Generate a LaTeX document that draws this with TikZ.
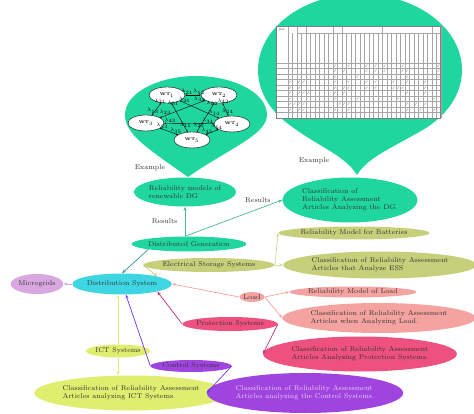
\documentclass[tikz,border=0pt]{standalone}
\usepackage{fontspec}
\usepackage{tikz}
\usetikzlibrary{positioning, shapes.geometric, arrows.meta}
\newfontfamily\symfont{DejaVu Sans}
\definecolor{dgGreen}{HTML}{1FD69E}
\definecolor{dsCyan}{HTML}{3DD6E2}
\definecolor{essOlive}{HTML}{C6D07A}
\definecolor{mgLilac}{HTML}{D9A8E2}
\definecolor{loadPink}{HTML}{F4A3A0}
\definecolor{protRed}{HTML}{EE5080}
\definecolor{ictYellow}{HTML}{E0EE70}
\definecolor{ctrlPurple}{HTML}{A044E0}
\definecolor{txtDark}{HTML}{333333}

\begin{document}
\begin{tikzpicture}[x=1pt, y=-1pt, font=\fontsize{7}{8}\selectfont,
  bub/.style={ellipse, inner sep=0pt, align=left, text=txtDark},
  wt/.style={ellipse, draw=black, fill=white, inner sep=0pt,
    minimum width=36, minimum height=16, font=\fontsize{4}{5}\selectfont\bfseries},
  lbl/.style={font=\fontsize{3.5}{4}\selectfont, inner sep=0.5pt},
  wtarr/.style={{Stealth[length=2pt]}-{Stealth[length=2pt]}, line width=0.4pt},
  arr/.style={-{Stealth[length=4pt]}, line width=0.7pt}]

\useasboundingbox (0,0) rectangle (474,414);

% example balloons
\fill[dgGreen] (188,177) .. controls (150,150) and (125,135) .. (125,115)
  .. controls (125,92) and (160,76) .. (196,76)
  .. controls (232,76) and (267,92) .. (267,115)
  .. controls (267,135) and (226,150) .. (188,177) -- cycle;
\fill[dgGreen] (360,70) ellipse [x radius=102, y radius=76];
\fill[dgGreen] (290,125) .. controls (315,145) and (345,155) .. (357,175)
  .. controls (369,155) and (400,145) .. (430,125) -- cycle;

% WT graph
\node[wt] (wt1) at (167,95)  {WT$_1$};
\node[wt] (wt2) at (219,95)  {WT$_2$};
\node[wt] (wt3) at (146,123) {WT$_3$};
\node[wt] (wt4) at (232,124) {WT$_4$};
\node[wt] (wt5) at (192,140) {WT$_5$};
\foreach \a/\b in {1/2,1/3,2/4,3/5,4/5,1/4,1/5,2/3,2/5,3/4}
  \draw[wtarr] (wt\a) -- node[lbl, pos=0.12, above]{$\lambda_{\b\a}$}
    node[lbl, pos=0.88, above]{$\lambda_{\a\b}$} (wt\b);

% table
\fill[white] (276,26) rectangle (440,118);
\foreach \c in {0,...,34}
  \draw[gray!70, line width=0.2pt] (288+4.5*\c,33) -- (288+4.5*\c,118);
\foreach \c in {0,2,4,10,12,21,32,34}
  \draw[gray!70, line width=0.2pt] (288+4.5*\c,26) -- (288+4.5*\c,33);
\foreach \r in {0,...,9}
  \draw[gray!70, line width=0.2pt] (276,63+5.5*\r) -- (440,63+5.5*\r);
\draw[gray!70, line width=0.2pt] (297,33) -- (440,33);
\draw[gray, line width=0.3pt] (276,26) rectangle (440,118);
\node[font=\fontsize{2.5}{3}\selectfont, inner sep=0pt] (ref) at (282,29.5) {Ref};
\foreach \c/\r in {10/1,13/1,17/1,19/1,21/1,25/1,33/1,
  10/2,12/2,17/2,19/2,21/2,25/2,26/2,33/2,
  10/3,15/3,26/3,33/3,
  0/4,2/4,3/4,10/4,13/4,17/4,19/4,23/4,26/4,30/4,
  0/5,2/5,10/5,12/5,13/5,17/5,19/5,23/5,24/5,25/5,30/5,
  0/6,2/6,3/6,4/6,10/6,12/6,26/6,30/6,
  0/7,10/7,15/7,24/7,32/7,
  0/8,1/8,2/8,3/8,11/8,12/8,13/8,26/8,28/8,30/8,
  0/9,2/9,3/9,10/9,13/9,26/9,29/9,32/9}
  \node[font=\symfont\fontsize{4}{4}\selectfont, inner sep=0pt, text=black!60]
    at (290.25+4.5*\c,60.25+5.5*\r) {✓};

% captions
\node[text=txtDark] (ex1) at (150,168) {Example};
\node[text=txtDark] (ex2) at (314,161) {Example};

% main nodes
\node[bub, fill=dgGreen, minimum width=92, minimum height=29] (relm) at (185,192)
  {Reliability models of\\renewable DG};
\node[bub, fill=dgGreen, minimum width=110, minimum height=45] (cldg) at (350,200)
  {Classification of\\Reliability Assessment\\Articles Analyzing the DG.};
\node[bub, fill=dgGreen, minimum width=92, minimum height=15] (dg) at (189,244)
  {Distributed Generation};
\node[bub, fill=essOlive, minimum width=95, minimum height=14] (ess) at (209,265)
  {Electrical Storage Systems};
\node[bub, fill=essOlive, minimum width=117, minimum height=13] (bat) at (354,233)
  {Reliability Model for Batteries};
\node[bub, fill=essOlive, minimum width=155, minimum height=27] (cless) at (380,265)
  {Classification of Reliability Assessment\\Articles that Analyze ESS};
\node[bub, fill=mgLilac, minimum width=47, minimum height=20] (mg) at (37,284)
  {Microgrids};
\node[bub, fill=dsCyan, minimum width=85, minimum height=21] (ds) at (122,284)
  {Distribution System};
\node[bub, fill=loadPink, minimum width=25, minimum height=10] (load) at (252,297)
  {Load};
\node[bub, fill=loadPink, minimum width=97, minimum height=11] (rml) at (353,292)
  {Reliability Model of Load};
\node[bub, fill=loadPink, minimum width=148, minimum height=30] (clload) at (379,318)
  {Classification of Reliability Assessment\\Articles when Analyzing Load.};
\node[bub, fill=protRed, minimum width=74, minimum height=14] (prot) at (230,324)
  {Protection Systems};
\node[bub, fill=protRed, minimum width=150, minimum height=35] (clprot) at (360,354)
  {Classification of Reliability Assessment\\Articles Analyzing Protection Systems.};
\node[bub, fill=ictYellow, minimum width=51, minimum height=13] (ict) at (118,351)
  {ICT Systems};
\node[bub, fill=ctrlPurple, minimum width=65, minimum height=12] (ctrl) at (191,366)
  {Control Systems};
\node[bub, fill=ictYellow, minimum width=155, minimum height=35] (clict) at (131,393)
  {Classification of Reliability Assessment\\Articles analyzing ICT Systems.};
\node[bub, fill=ctrlPurple, text=ctrlPurple!25, minimum width=150, minimum height=40]
  (clctrl) at (305,393)
  {Classification of Reliability Assessment\\Articles analyzing the Control Systems.};

% connectors
\draw[arr, dgGreen!80!black!80] (dg.north -| relm.south) -- node[left=4pt, text=txtDark]{Results} (relm.south);
\draw[arr, dgGreen!80!black!80] (dg.north -| relm.south) -- node[above=3pt, pos=0.75, text=txtDark]{Results} (cldg.west);
\draw[arr, dsCyan!70!black] (dg.south west) -- (ds.north);
\draw[arr, essOlive] (ess.west) -- (ds.north east);
\draw[arr, essOlive!80] (ess.east) -- (bat.west);
\draw[arr, essOlive!80] (ess.east) -- (cless.west);
\draw[arr, mgLilac] (ds.west) -- (mg.east);
\draw[arr, loadPink] (load.west) -- (ds.east);
\draw[arr, loadPink] (load.east) -- (rml.west);
\draw[arr, loadPink] (load.east) -- (clload.west);
\draw[arr, protRed!60!violet] (prot.west) -- (ds.south east);
\draw[arr, protRed!60!violet] (prot.east) -- (clprot.west);
\draw[arr, ictYellow] (ict.north) -- (ict.north |- ds.south);
\draw[arr, ictYellow] (ict.south) -- (ict.south |- clict.north);
\draw[arr, ctrlPurple!70!blue] (ctrl.west) -- (ds.-70);
\draw[arr, ctrlPurple!70!blue] (ctrl.east) -- (clctrl.west);

\end{tikzpicture}
\end{document}
